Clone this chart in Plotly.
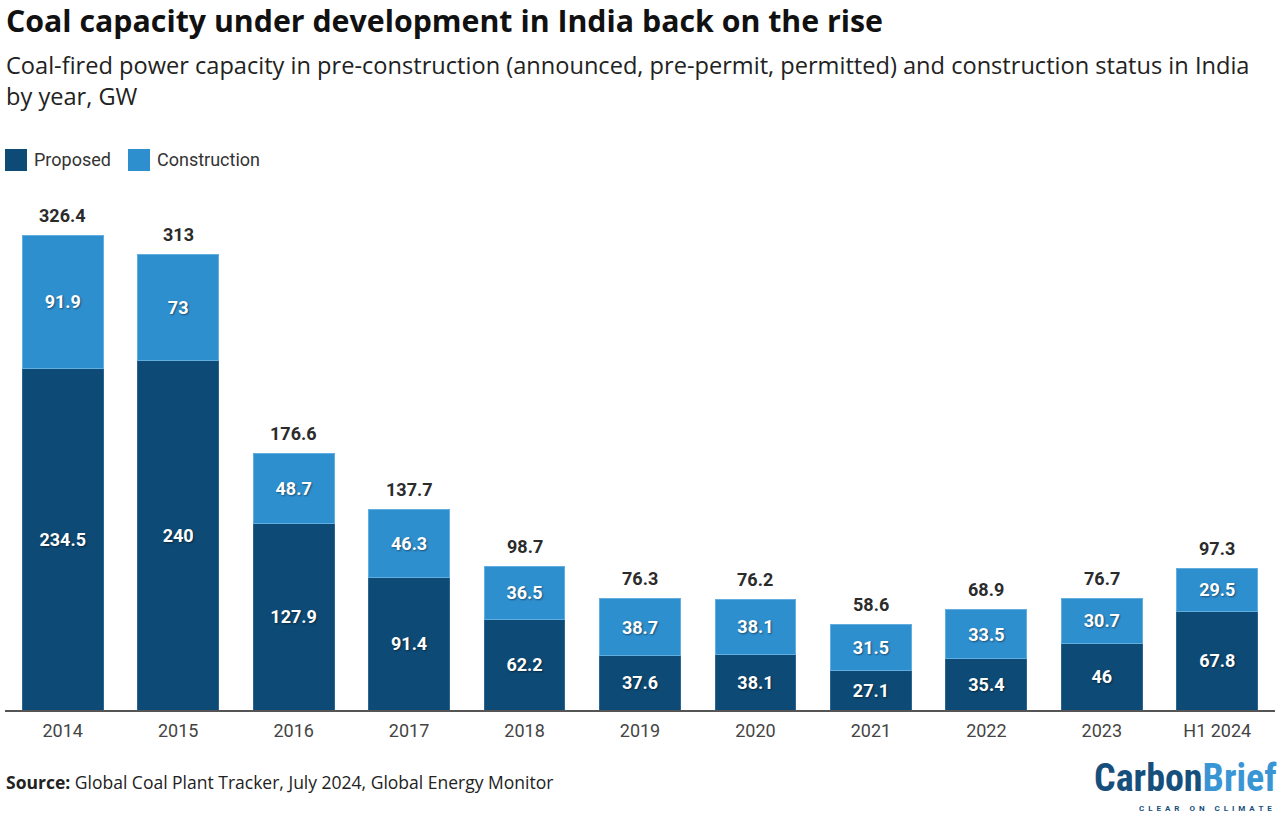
import plotly.graph_objects as go

years = ["2014", "2015", "2016", "2017", "2018", "2019", "2020", "2021", "2022", "2023", "H1 2024"]
proposed = [234.5, 240, 127.9, 91.4, 62.2, 37.6, 38.1, 27.1, 35.4, 46, 67.8]
construction = [91.9, 73, 48.7, 46.3, 36.5, 38.7, 38.1, 31.5, 33.5, 30.7, 29.5]
totals = [326.4, 313, 176.6, 137.7, 98.7, 76.3, 76.2, 58.6, 68.9, 76.7, 97.3]

DARK = "#0d4a75"
LIGHT = "#2e8fcf"
TITLE_FONT = "Open Sans, sans-serif"
W, H = 1280, 817
L, R, T, B = 5, 5, 200, 107

def fmt(v):
    return "%g" % v

def px(x):
    return (x - L) / (W - L - R)

def py(y):
    return (H - B - y) / (H - T - B)

SHADOW = "1px 1px 2px rgba(0,0,0,0.45)"

fig = go.Figure()
fig.add_trace(go.Bar(
    x=years, y=proposed, name="Proposed", marker_color=DARK,
    marker_line=dict(width=1, color="#2c6590"),
    text=[fmt(v) for v in proposed], textposition="inside", insidetextanchor="middle",
    textfont=dict(family="Roboto", size=18, color="white", weight="bold", shadow=SHADOW),
    hoverinfo="x+y", showlegend=False,
))
fig.add_trace(go.Bar(
    x=years, y=construction, name="Construction", marker_color=LIGHT,
    marker_line=dict(width=1, color="#62aee0"),
    text=[fmt(v) for v in construction], textposition="inside", insidetextanchor="middle",
    textfont=dict(family="Roboto", size=18, color="white", weight="bold", shadow=SHADOW),
    hoverinfo="x+y", showlegend=False,
))

# total labels: category index positions on the categorical x axis
for i, tot in enumerate(totals):
    fig.add_annotation(x=i, y=tot, xref="x", yref="y", text="<b>%s</b>" % fmt(tot), showarrow=False,
                       yanchor="middle", yshift=20,
                       font=dict(family="Roboto", size=18, color="#2b2b2b"))

fig.update_layout(
    width=W, height=H,
    barmode="stack", bargap=0.3,
    plot_bgcolor="white", paper_bgcolor="white",
    margin=dict(l=L, r=R, t=T, b=B, autoexpand=False),
    showlegend=False,
    xaxis=dict(type="category", categoryorder="array", categoryarray=years,
               range=[-0.5, len(years) - 0.5],
               showgrid=False, showline=True, linecolor="#555555", linewidth=1.5,
               ticks="", ticklabelstandoff=4,
               tickfont=dict(family="Roboto", size=18, color="#444444"),
               fixedrange=True, automargin=False),
    yaxis=dict(visible=False, range=[0, 350.5], fixedrange=True, automargin=False),
)

# legend drawn manually
for x0, col, label, tx in [(5, DARK, "Proposed", 32), (128, LIGHT, "Construction", 155)]:
    fig.add_shape(type="rect", xref="paper", yref="paper",
                  x0=px(x0), x1=px(x0 + 22), y0=py(171), y1=py(149),
                  fillcolor=col, line=dict(width=0))
    fig.add_annotation(text=label, xref="paper", yref="paper", x=px(tx), y=py(159),
                       xanchor="left", yanchor="middle", showarrow=False,
                       font=dict(family="Roboto", size=18, color="#333333"))

fig.add_annotation(text="<b>Coal capacity under development in India back on the rise</b>",
                   xref="paper", yref="paper", x=px(4), y=py(21), xanchor="left", yanchor="middle",
                   showarrow=False, font=dict(family=TITLE_FONT, size=30.3, color="#111111"))
fig.add_annotation(text="Coal-fired power capacity in pre-construction (announced, pre-permit, permitted) and construction status in India<br>by year, GW",
                   xref="paper", yref="paper", x=px(4), y=py(81), xanchor="left", yanchor="middle", align="left",
                   showarrow=False, font=dict(family=TITLE_FONT, size=23.6, color="#222222"))
fig.add_annotation(text="<b>Source:</b> Global Coal Plant Tracker, July 2024, Global Energy Monitor",
                   xref="paper", yref="paper", x=px(4), y=py(782), xanchor="left", yanchor="middle", align="left",
                   showarrow=False, font=dict(family=TITLE_FONT, size=17.5, color="#222222"))
fig.add_annotation(text="<b><span style='color:#174f7c'>Carbon</span><span style='color:#3a95d4'>Brief</span></b>",
                   xref="paper", yref="paper", x=px(1279), y=py(778), xanchor="right", yanchor="middle",
                   showarrow=False, font=dict(family="Liberation Sans Narrow, Roboto Condensed, sans-serif", size=38))
fig.add_annotation(text="C  L  E  A  R     O  N     C  L  I  M  A  T  E",
                   xref="paper", yref="paper", x=px(1274), y=py(808), xanchor="right", yanchor="middle",
                   showarrow=False, font=dict(family="Roboto", size=8, color="#174f7c", weight="bold"))

fig.write_html("out.html", config={"displayModeBar": False},
               post_script="document.body.style.margin='0';")
